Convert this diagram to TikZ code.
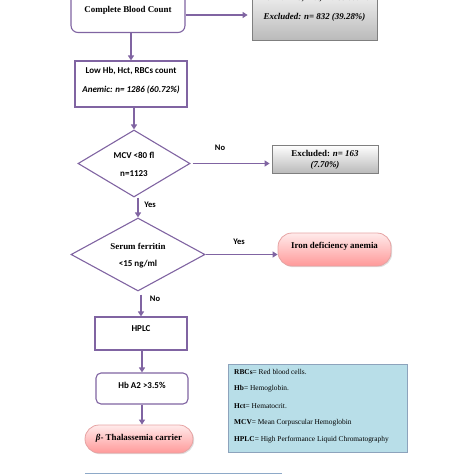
\documentclass[tikz,border=0pt]{standalone}
\usepackage{fontspec}
\setmainfont{Liberation Serif}
\newfontfamily\calfont{Carlito}
\usetikzlibrary{arrows.meta,shapes.geometric,shadows}
\definecolor{purp}{HTML}{8064A2}
\definecolor{grayb}{HTML}{7F7F7F}
\definecolor{pinkb}{HTML}{E6A3A3}
\definecolor{legf}{HTML}{B8DEE8}
\definecolor{legb}{HTML}{8DA3BC}
\definecolor{botl}{HTML}{8EA9C8}
\tikzset{
  x=1pt,y=-1pt,
  arr/.style={draw=purp,line width=1.4pt,-{Triangle[width=6pt,length=5pt]}},
  pbox/.style={draw=purp,line width=1.1pt,fill=white,inner sep=0pt},
  rbox/.style={pbox,rounded corners=7pt},
  gbox/.style={draw=grayb,line width=0.8pt,top color=white,bottom color=black!27,inner sep=0pt,
     drop shadow={opacity=0.35,shadow xshift=1.2pt,shadow yshift=-1.2pt}},
  pill/.style={draw=pinkb,line width=0.8pt,top color=red!8,bottom color=red!40!white,rounded corners=14pt,inner sep=0pt,
     drop shadow={opacity=0.25,shadow xshift=1.2pt,shadow yshift=-1.2pt}},
  dia/.style={draw=purp,line width=1.1pt,diamond,inner sep=0pt,fill=white},
  tt/.style={font=\fontsize{8.9}{10}\selectfont\bfseries,inner sep=0pt},
  tti/.style={font=\fontsize{8.9}{10}\selectfont\bfseries\itshape,inner sep=0pt},
  ss/.style={font=\calfont\fontsize{9}{10}\selectfont\bfseries,inner sep=0pt},
  ssi/.style={font=\calfont\fontsize{9}{10}\selectfont\bfseries\itshape,inner sep=0pt},
  lab/.style={font=\calfont\fontsize{8.5}{10}\selectfont\bfseries,inner sep=0pt},
  legt/.style={font=\fontsize{7.4}{8}\selectfont,inner sep=0pt,anchor=west},
}
\begin{document}
\begin{tikzpicture}
\useasboundingbox (0,0) rectangle (474,474);
% top
\node[rbox,minimum width=114pt,minimum height=58.5pt] (cbc) at (128,3.25) {};
\node[tt] (cbct) at (128,10) {Complete Blood Count};
\node[gbox,minimum width=125pt,minimum height=60pt] (ex1) at (314.5,10) {};
\node[tti] (ex1a) at (314.5,-1.5) {Normal Hb, Hct, RBCs count};
\node[tti] (ex1b) at (314.5,17) {Excluded: n= 832 (39.28\%)};
\draw[arr,shorten >=4pt] ([yshift=-11.75pt]cbc.east) -- ([yshift=-11.75pt]cbc.east -| ex1.west);
% low hb
\node[pbox,minimum width=112pt,minimum height=46pt] (low) at (131,84) {};
\node[ss] (lowa) at (131,71) {Low Hb, Hct, RBCs count};
\node[ssi] (lowb) at (131,90) {Anemic: n= 1286 (60.72\%)};
\draw[arr] (low.north |- cbc.south) -- (low.north);
% MCV
\node[dia,minimum width=112pt,minimum height=67pt] (mcv) at (134,163.5) {};
\node[ss] (mcva) at (134,155) {MCV <80 fl};
\node[ss] (mcvb) at (134,174) {n=1123};
\draw[arr] (mcv.north |- low.south) -- (mcv.north);
\node[gbox,minimum width=106pt,minimum height=28pt] (ex2) at (325,159) {};
\node[tt] (ex2a) at (325,153) {Excluded: \textit{n= 163}};
\node[tti] (ex2b) at (325,165.5) {(7.70\%)};
\draw[arr,shorten <=2pt,shorten >=2pt] (mcv.east) -- (mcv.east -| ex2.west);
\node[lab] (no1) at (220,148) {No};
% Serum ferritin
\node[dia,minimum width=134pt,minimum height=73pt] (sf) at (138,254.5) {};
\node[tt] (sfa) at (138,246) {Serum ferritin};
\node[ss] (sfb) at (138,264.5) {<15 ng/ml};
\draw[arr] (sf.north |- mcv.south) -- (sf.north);
\node[lab] (yes1) at (150,205) {Yes};
\node[pill,minimum width=113pt,minimum height=33pt] (ida) at (334.5,249.5) {};
\node[tt] (idat) at (334.5,246) {Iron deficiency anemia};
\draw[arr] (sf.east) -- (sf.east -| ida.west);
\node[lab] (yes2) at (239,242) {Yes};
% HPLC
\node[pbox,minimum width=92pt,minimum height=33pt] (hplc) at (141,333.5) {};
\node[ss] (hplct) at (141,329) {HPLC};
\draw[arr,shorten <=3pt] (hplc.north |- sf.south) -- (hplc.north);
\node[lab] (no2) at (155,299) {No};
% Hb A2
\node[rbox,rounded corners=5pt,minimum width=92pt,minimum height=31pt] (hba) at (142,388.5) {};
\node[ss] (hbat) at (142,385) {Hb A2 >3.5\%};
\draw[arr] (hba.north |- hplc.south) -- (hba.north);
% beta
\node[pill,minimum width=108pt,minimum height=28pt] (beta) at (139,439) {};
\node[tt] (betat) at (139,438) {\textit{β}- Thalassemia carrier};
\draw[arr] (hba.south) -- (hba.south |- beta.north);
% legend
\node[draw=legb,line width=0.8pt,fill=legf,minimum width=179pt,minimum height=88pt,inner sep=0pt] (leg) at (317.5,408) {};
\node[legt] (l1) at (234,372) {\textbf{RBCs}= Red blood cells.};
\node[legt] (l2) at (234,389) {\textbf{Hb}= Hemoglobin.};
\node[legt] (l3) at (234,406) {\textbf{Hct}= Hematocrit.};
\node[legt] (l4) at (234,423) {\textbf{MCV}= Mean Corpuscular Hemoglobin};
\node[legt] (l5) at (234,440) {\textbf{HPLC}= High Performance Liquid Chromatography};
% bottom strip
\draw[botl,line width=2pt] (85,473.5) -- (282,473.5);
\end{tikzpicture}
\end{document}
